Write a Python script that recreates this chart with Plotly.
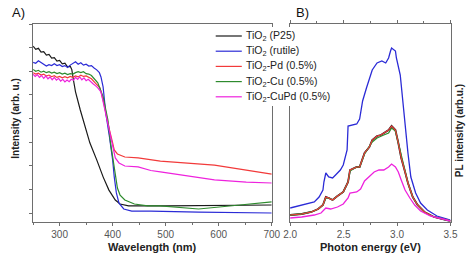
import plotly.graph_objects as go

# ---------------- Panel A: absorption (arb. u.) vs wavelength (nm) ----------------
wl_p25 = [250,255,260,265,270,275,280,285,290,295,300,305,310,315,320,323,326,330,339,348,357,370,382,393,405,414,430,500,600,700]
abs_p25 = [0.706,0.693,0.697,0.681,0.683,0.668,0.671,0.656,0.658,0.643,0.646,0.631,0.634,0.619,0.621,0.607,0.564,0.513,0.436,0.364,0.297,0.225,0.153,0.097,0.055,0.038,0.030,0.030,0.032,0.034]

wl_rut = [250,255,260,265,270,275,280,285,290,295,300,305,310,315,320,325,330,335,340,345,350,355,360,365,370,375,
          378,382,385,387,394,400,403,407,412,421,436,472,562,700]
abs_rut = [0.638,0.634,0.644,0.636,0.630,0.622,0.628,0.624,0.632,0.624,0.628,0.620,0.624,0.616,0.626,0.634,0.640,0.630,0.636,0.626,0.630,0.622,0.624,0.614,0.606,0.594,
           0.576,0.534,0.479,0.424,0.322,0.225,0.153,0.085,0.042,0.017,0.008,0.008,0.004,0.0]

wl_pd = [250,255,260,265,270,275,280,285,290,295,300,305,310,315,320,325,330,335,340,345,350,355,360,
         367,376,382,387,394,400,403,409,423,448,472,490,592,652,700]
abs_pd = [0.594,0.588,0.592,0.584,0.588,0.580,0.584,0.577,0.581,0.574,0.578,0.572,0.577,0.572,0.578,0.574,0.580,0.576,0.583,0.578,0.580,0.574,0.568,
          0.551,0.530,0.479,0.424,0.352,0.297,0.267,0.250,0.237,0.233,0.225,0.220,0.203,0.182,0.165]

wl_cu = [250,255,260,265,270,275,280,285,290,295,300,305,310,315,320,325,330,335,340,345,350,355,360,
         365,372,382,391,396,403,409,414,423,441,466,490,562,640,700]
abs_cu = [0.608,0.600,0.604,0.596,0.600,0.594,0.598,0.592,0.596,0.590,0.594,0.588,0.592,0.586,0.590,0.588,0.594,0.598,0.594,0.598,0.590,0.588,0.582,
          0.570,0.551,0.492,0.394,0.297,0.182,0.106,0.076,0.055,0.038,0.030,0.030,0.017,0.034,0.047]

wl_cupd = [250,254,258,262,266,270,274,278,282,286,290,294,298,302,306,310,314,318,322,326,330,334,338,342,346,350,354,358,
           363,368,372,378,382,387,394,400,405,412,423,448,472,490,592,652,700]
abs_cupd = [0.588,0.578,0.586,0.574,0.582,0.570,0.580,0.568,0.576,0.564,0.574,0.562,0.570,0.558,0.566,0.555,0.563,0.556,0.566,0.562,0.574,0.566,0.576,0.564,0.572,0.560,0.566,0.556,
            0.547,0.538,0.530,0.513,0.470,0.415,0.343,0.280,0.233,0.212,0.199,0.195,0.180,0.174,0.140,0.131,0.127]

# ---------------- Panel B: PL intensity (arb. u.) vs photon energy (eV) ----------------
e_rut = [2.000,2.081,2.172,2.226,2.271,2.307,2.316,2.334,2.361,2.397,2.425,2.470,2.497,2.533,2.542,2.623,2.650,2.678,2.714,2.741,
         2.768,2.813,2.858,2.894,2.921,2.939,2.949,2.985,2.994,3.030,3.057,3.075,3.102,3.129,3.174,3.220,3.283,3.373,3.491,3.5]
pl_rut = [14,16,18,20,25,32,40,49,45,44,47,52,57,72,96,98,103,121,134,144,
          152,159,161,159,164,171,174,171,164,147,117,95,69,45,29,19,12,6,2,2]

e_pd = [2.000,2.108,2.199,2.262,2.307,2.334,2.361,2.397,2.443,2.497,2.542,2.560,2.623,2.650,2.696,2.741,2.768,
        2.813,2.849,2.876,2.921,2.949,2.985,3.012,3.039,3.075,3.102,3.147,3.192,3.256,3.346,3.463,3.5]
pl_pd = [7,8,10,13,17,25,24,22,26,30,40,52,55,55,69,75,82,86,87,89,92,96,92,79,64,50,39,25,17,10,5,2,1]
pl_p25 = [7,8,10,13,17,25,24,22,26,30,40,52,55,55,69,75,82,86,87,89,92,96,92,79,64,50,39,25,17,10,5,2,1]
pl_cu = [7,8,10,13,17,24,24,22,26,30,40,51,55,55,68,75,80,84,86,87,89,94,91,79,64,50,39,25,17,10,5,2,1]

e_cupd = [2.000,2.108,2.226,2.289,2.334,2.379,2.443,2.497,2.542,2.560,2.623,2.659,2.696,2.741,2.786,2.831,2.876,
          2.921,2.949,2.985,3.012,3.039,3.075,3.120,3.165,3.220,3.310,3.428,3.5]
pl_cupd = [4,5,7,9,14,13,15,18,24,29,30,33,41,46,50,52,52,55,58,55,50,42,32,24,17,11,6,3,1]

names = ["TiO<sub>2</sub> (P25)", "TiO<sub>2</sub> (rutile)", "TiO<sub>2</sub>-Pd (0.5%)",
         "TiO<sub>2</sub>-Cu (0.5%)", "TiO<sub>2</sub>-CuPd (0.5%)"]
colors = ["#1a1a1a", "#2b2bd6", "#f23a3a", "#2e8b2e", "#ee22dd"]

FONT = "Liberation Sans, Arial, sans-serif"
W, H = 474, 256

fig = go.Figure()

seriesA = [(wl_p25, abs_p25), (wl_rut, abs_rut), (wl_pd, abs_pd), (wl_cu, abs_cu), (wl_cupd, abs_cupd)]
for i in range(5):
    x, y = seriesA[i]
    fig.add_trace(go.Scatter(x=x, y=y, mode="lines", name=names[i], showlegend=False,
                             line=dict(color=colors[i], width=1.2),
                             xaxis="x", yaxis="y"))

seriesB = [(e_pd, pl_p25, 0, 1.8), (e_rut, pl_rut, 1, 1.3), (e_pd, pl_cu, 3, 1.3),
           (e_pd, pl_pd, 2, 1.1), (e_cupd, pl_cupd, 4, 1.3)]
for x, y, ci, w in seriesB:
    fig.add_trace(go.Scatter(x=x, y=y, mode="lines", showlegend=False,
                             line=dict(color=colors[ci], width=w),
                             xaxis="x2", yaxis="y2"))

axcol = "#6e6e6e"
tickfont = dict(family=FONT, size=10, color="#555")

y0 = (H - 222) / H
y1 = (H - 24) / H

# manual legend (white box, line samples, labels)
shapes = [dict(type="rect", xref="paper", yref="paper", x0=212 / W, x1=336 / W,
               y0=1 - 106 / H, y1=1 - 27 / H, fillcolor="white", line=dict(width=0), layer="above")]
annotations = []
for i in range(5):
    yy = 1 - (36 + 15.2 * i) / H
    shapes.append(dict(type="line", xref="paper", yref="paper", x0=216 / W, x1=243 / W, y0=yy, y1=yy,
                       line=dict(color=colors[i], width=1.2), layer="above"))
    annotations.append(dict(text=names[i], x=245 / W, y=yy, xref="paper", yref="paper",
                            xanchor="left", yanchor="middle", showarrow=False,
                            font=dict(family=FONT, size=10.5, color="#222")))

annotations += [
    dict(text="A)", x=3 / W, y=1 - 12 / H, xref="paper", yref="paper", xanchor="left", yanchor="middle",
         showarrow=False, font=dict(family=FONT, size=13, color="#111")),
    dict(text="B)", x=297 / W, y=1 - 12 / H, xref="paper", yref="paper", xanchor="left", yanchor="middle",
         showarrow=False, font=dict(family=FONT, size=13, color="#111")),
    dict(text="<b>Wavelength (nm)</b>", x=151 / W, y=1 - 247 / H, xref="paper", yref="paper",
         xanchor="center", yanchor="middle", showarrow=False, font=dict(family=FONT, size=11, color="#222")),
    dict(text="<b>Photon energy (eV)</b>", x=376 / W, y=1 - 247 / H, xref="paper", yref="paper",
         xanchor="center", yanchor="middle", showarrow=False, font=dict(family=FONT, size=11, color="#222")),
    dict(text="<b>Intensity (arb. u.)</b>", x=8 / W, y=1 - 118 / H, xref="paper", yref="paper",
         xanchor="center", yanchor="middle", textangle=-90, showarrow=False,
         font=dict(family=FONT, size=10, color="#222")),
    dict(text="<b>PL intensity (arb.u.)</b>", x=468 / W, y=1 - 131 / H, xref="paper", yref="paper",
         xanchor="center", yanchor="middle", textangle=-90, showarrow=False,
         font=dict(family=FONT, size=10, color="#222")),
]

fig.update_layout(
    width=W, height=H,
    margin=dict(l=0, r=0, t=0, b=0),
    paper_bgcolor="white", plot_bgcolor="white",
    font=dict(family=FONT, color="#222"),
    showlegend=False,
    xaxis=dict(domain=[27 / W, 274 / W], range=[250, 700], showgrid=False, zeroline=False,
               showline=True, linecolor=axcol, linewidth=1, mirror=True,
               tickmode="array", tickvals=[300, 400, 500, 600, 700],
               ticks="outside", ticklen=3, tickcolor=axcol, tickfont=tickfont,
               minor=dict(ticks="outside", ticklen=2, tickvals=[250, 350, 450, 550, 650], tickcolor=axcol),
               anchor="y"),
    yaxis=dict(domain=[y0, y1], range=[-0.038, 0.80], showgrid=False, zeroline=False,
               showline=True, linecolor=axcol, linewidth=1, mirror=True,
               dtick=0.1, tick0=0, ticks="outside", ticklen=3, tickcolor=axcol,
               showticklabels=False, anchor="x"),
    xaxis2=dict(domain=[293 / W, 459 / W], range=[2.0, 3.5], showgrid=False, zeroline=False,
                showline=True, linecolor=axcol, linewidth=1, mirror="ticks",
                tickmode="array", tickvals=[2.0, 2.5, 3.0, 3.5], ticktext=["2.0", "2.5", "3.0", "3.5"],
                ticks="outside", ticklen=3, tickcolor=axcol, tickfont=tickfont,
                minor=dict(ticks="outside", ticklen=2, tickvals=[2.25, 2.75, 3.25], tickcolor=axcol),
                anchor="y2"),
    yaxis2=dict(domain=[y0, y1], range=[0, 198], showgrid=False, zeroline=False,
                showline=True, linecolor=axcol, linewidth=1, mirror=True,
                ticks="", showticklabels=False, anchor="x2"),
    shapes=shapes,
    annotations=annotations,
)

fig.write_html("out.html")
